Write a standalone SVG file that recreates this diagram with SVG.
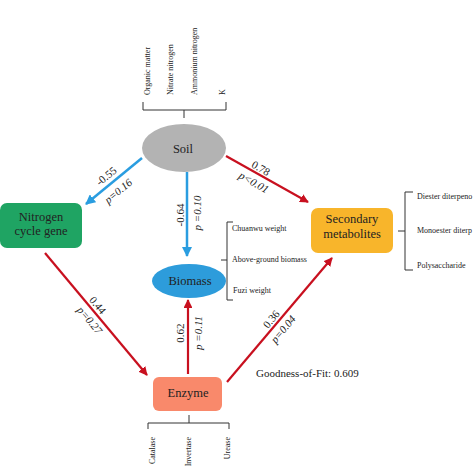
<svg xmlns="http://www.w3.org/2000/svg" width="474" height="474" viewBox="0 0 474 474">
<defs>
<marker id="ab" viewBox="0 0 10 10" refX="9" refY="5" markerWidth="4" markerHeight="4" orient="auto" markerUnits="strokeWidth"><path d="M0,0 L10,5 L0,10 z" fill="#2a9de0"/></marker>
<marker id="ar" viewBox="0 0 10 10" refX="9" refY="5" markerWidth="4" markerHeight="4" orient="auto" markerUnits="strokeWidth"><path d="M0,0 L10,5 L0,10 z" fill="#c8101f"/></marker>
</defs>
<style>
text{font-family:"Liberation Serif","Times New Roman",serif;fill:#222}
.node{font-size:12.5px;text-anchor:middle}
.sm{font-size:8px}
.el{font-size:11px;text-anchor:middle}
.it{font-style:italic}
.br{fill:none;stroke:#333;stroke-width:1}
.blue{stroke:#2a9de0;stroke-width:2.5;fill:none;marker-end:url(#ab)}
.red{stroke:#c8101f;stroke-width:2.2;fill:none;marker-end:url(#ar)}
</style>
<rect width="474" height="474" fill="#fff"/>
<g id="connectors">
<line class="blue" x1="142" y1="158" x2="86" y2="204"/>
<line class="blue" x1="187" y1="172" x2="187" y2="256"/>
<line class="red" x1="226" y1="156" x2="308" y2="202"/>
<line class="red" x1="45" y1="253" x2="147" y2="375"/>
<line class="red" x1="188" y1="374" x2="188" y2="300"/>
<line class="red" x1="227" y1="382" x2="332" y2="258"/>
<g transform="translate(106,176) rotate(-39.5)"><text class="el" y="4">-0.55</text></g>
<g transform="translate(118,191) rotate(-39.5)"><text class="el it" y="4">p=0.16</text></g>
<g transform="translate(180,215) rotate(-90)"><text class="el" y="4">-0.64</text></g>
<g transform="translate(197,213) rotate(-90)"><text class="el it" y="4">p =0.10</text></g>
<g transform="translate(261,168) rotate(30)"><text class="el" y="4">0.78</text></g>
<g transform="translate(254,182) rotate(30)"><text class="el it" y="4">p&lt;0.01</text></g>
<g transform="translate(98,305) rotate(50)"><text class="el" y="4">0.44</text></g>
<g transform="translate(90,320) rotate(50)"><text class="el it" y="4">p=0.27</text></g>
<g transform="translate(180,333) rotate(-90)"><text class="el" y="4">0.62</text></g>
<g transform="translate(198,333) rotate(-90)"><text class="el it" y="4">p =0.11</text></g>
<g transform="translate(271,319) rotate(-50)"><text class="el" y="4">0.36</text></g>
<g transform="translate(283,329) rotate(-50)"><text class="el it" y="4">p=0.04</text></g>
</g>
<g id="soil">
<ellipse cx="184" cy="148" rx="42" ry="24" fill="#b3b3b3"/>
<text class="node" x="183" y="153">Soil</text>
<path class="br" d="M143,102 V110 H226 V102 M184,110 V118"/>
<text class="sm" transform="translate(150,95) rotate(-90)">Organic matter</text>
<text class="sm" transform="translate(173,95) rotate(-90)">Nitrate nitrogen</text>
<text class="sm" transform="translate(197,95) rotate(-90)">Ammonium nitrogen</text>
<text class="sm" transform="translate(225,95) rotate(-90)">K</text>
</g>
<g id="nitrogen">
<rect x="0" y="203" width="82" height="45" rx="7" fill="#1fa463"/>
<text class="node" x="41" y="221">Nitrogen</text>
<text class="node" x="41" y="235">cycle gene</text>
</g>
<g id="biomass">
<ellipse cx="189" cy="281" rx="37" ry="17" fill="#2d9cdb"/>
<text class="node" x="190" y="285">Biomass</text>
<path class="br" d="M233,222 H227 V300 H233 M227,260 H221"/>
<text class="sm" x="232" y="231">Chuanwu weight</text>
<text class="sm" x="232" y="262">Above-ground biomass</text>
<text class="sm" x="233" y="293">Fuzi weight</text>
</g>
<g id="secondary">
<rect x="311" y="208" width="82" height="45" rx="7" fill="#f8b52b"/>
<text class="node" x="352" y="223">Secondary</text>
<text class="node" x="352" y="238">metabolites</text>
<path class="br" d="M413,192 H405 V270 H413 M405,231 H398"/>
<text class="sm" x="417" y="199">Diester diterpeno</text>
<text class="sm" x="417" y="233">Monoester diterp</text>
<text class="sm" x="417" y="268">Polysaccharide</text>
</g>
<g id="enzyme">
<rect x="153" y="377" width="69" height="34" rx="6" fill="#f9896b"/>
<text class="node" x="188" y="397">Enzyme</text>
<path class="br" d="M148,429 V423 H229 V429 M189,423 V415"/>
<text class="sm" text-anchor="end" transform="translate(155,437) rotate(-90)">Catalase</text>
<text class="sm" text-anchor="end" transform="translate(191,437) rotate(-90)">Invertase</text>
<text class="sm" text-anchor="end" transform="translate(230,437) rotate(-90)">Urease</text>
</g>
<text x="256" y="377" font-size="11">Goodness-of-Fit: 0.609</text>
</svg>
